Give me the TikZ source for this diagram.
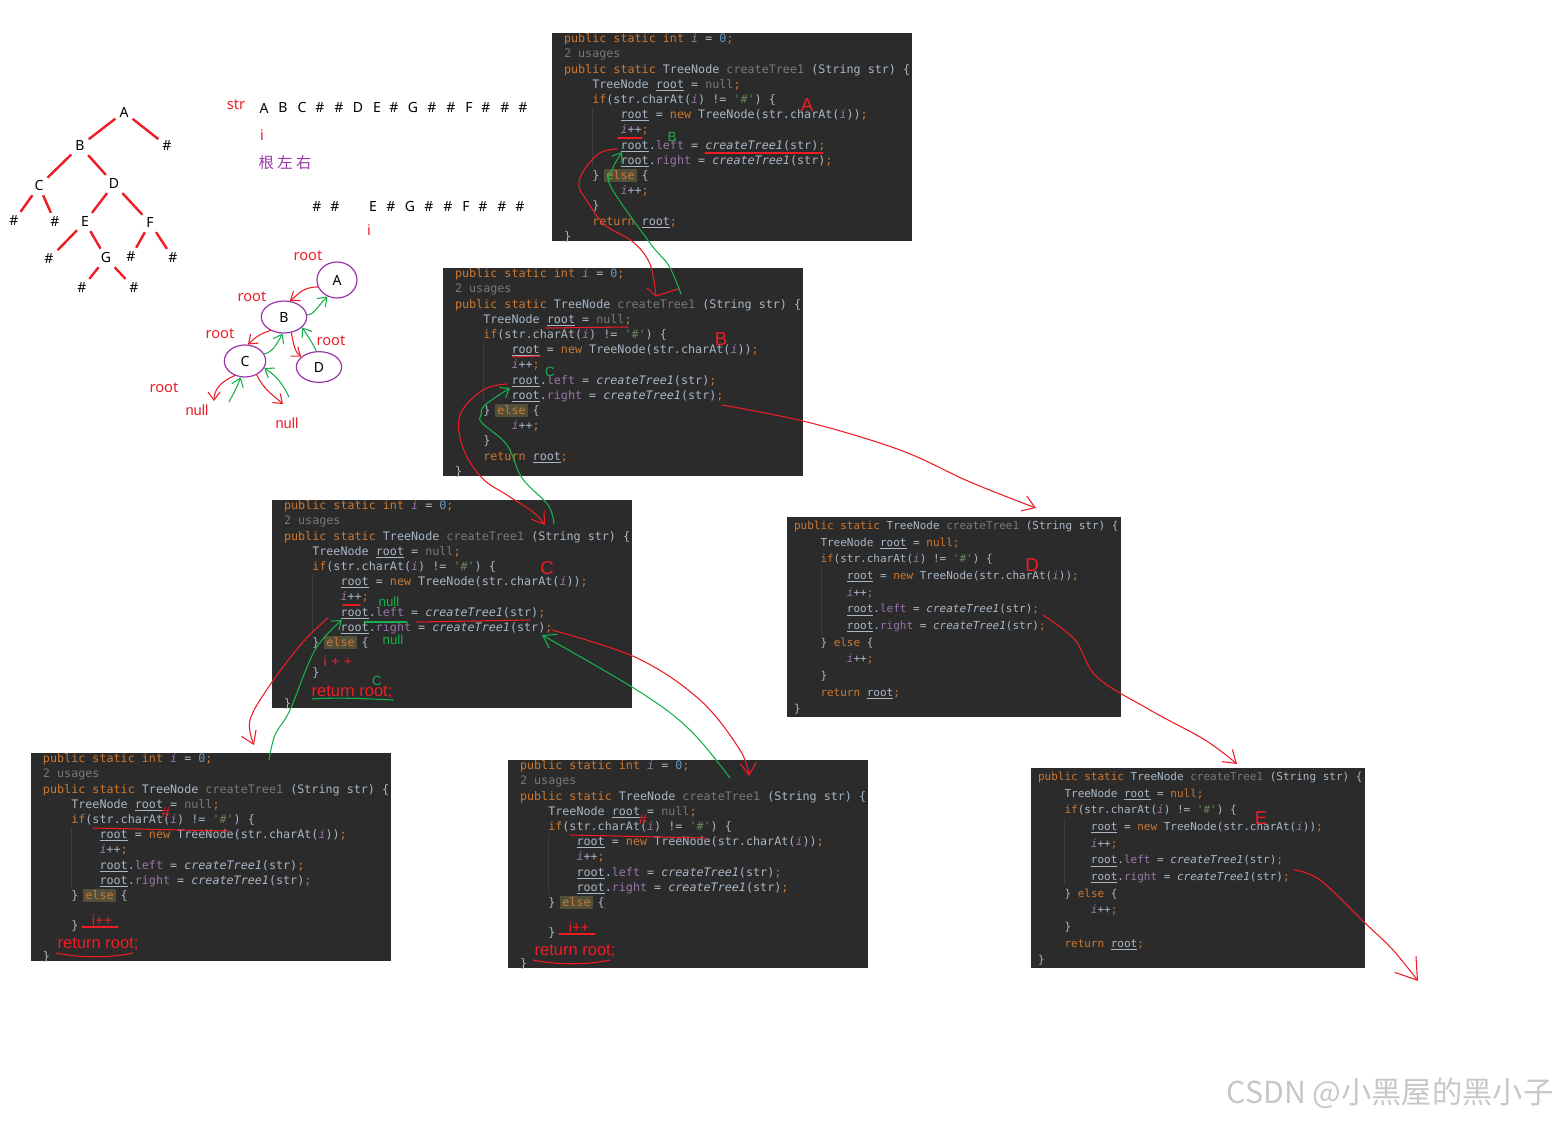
\documentclass[tikz,border=0pt]{standalone}
\usepackage{fontspec}
\setmainfont{Noto Sans}
\setmonofont{DejaVu Sans Mono}
\newfontfamily\cjkfont{Noto Sans CJK SC}
\newfontfamily\penfont{Liberation Sans}
\usetikzlibrary{arrows.meta,shapes.geometric}
\definecolor{panelbg}{HTML}{2B2B2B}
\definecolor{codetext}{HTML}{A9B7C6}
\definecolor{codeorange}{HTML}{CC7832}
\definecolor{codepurple}{HTML}{9876AA}
\definecolor{codegray}{HTML}{787878}
\definecolor{codeblue}{HTML}{6897BB}
\definecolor{codegreen}{HTML}{6A8759}
\definecolor{elsebg}{HTML}{52503A}
\definecolor{guide}{HTML}{3D3D3D}
\definecolor{penred}{HTML}{EE1C25}
\definecolor{pengreen}{HTML}{16B04C}
\definecolor{circlepurple}{HTML}{9A35A8}
\newcommand{\kw}[1]{\textcolor{codeorange}{#1}}
\newcommand{\vi}{\textcolor{codepurple}{\textit{i}}}
\newcommand{\rt}{\underline{root}}
\newcommand{\ind}{\phantom{xxxx}}
\newcommand{\hlelse}{\setlength{\fboxsep}{1.5pt}\hspace{-1.5pt}\smash{\colorbox{elsebg}{\kw{else}}}\hspace{-1.5pt}}
\newcommand{\codehead}{\kw{public static int} \vi\ = \textcolor{codeblue}{0}\kw{;}\\
  \textcolor{codegray}{2 usages}\\}
\newcommand{\codetop}[1]{\kw{public static} TreeNode \textcolor{codegray}{createTree1} (String str) \{\\
  \ind TreeNode \rt\ = #1\kw{;}\\
  \ind\kw{if}(str.charAt(\vi) != \textcolor{codegreen}{'\#'}) \{\\
  \ind\ind\rt\ = \kw{new} TreeNode(str.charAt(\vi))\kw{;}\\
  \ind\ind\vi++\kw{;}\\
  \ind\ind\rt.\textcolor{codepurple}{left} = \textit{createTree1}(str)\kw{;}\\
  \ind\ind\rt.\textcolor{codepurple}{right} = \textit{createTree1}(str)\kw{;}\\}
\newcommand{\grayNull}{\textcolor{codegray}{null}}
\newcommand{\codefull}{\ind\} \hlelse\ \{\\ \ind\ind\vi++\kw{;}\\ \ind\}\\ \ind\kw{return} \rt\kw{;}\\ \smash{\}}}
\newcommand{\codecut}{\ind\} \hlelse\ \{\\ \mbox{}\\ \ind\}\\ \mbox{}\\ \smash{\}}}
\newcommand{\codeplain}{\ind\} \kw{else} \{\\ \ind\ind\vi++\kw{;}\\ \ind\}\\ \ind\kw{return} \rt\kw{;}\\ \smash{\}}}

\begin{document}
\begin{tikzpicture}[x=0.75pt,y=-0.75pt,
  codebig/.style={fill=panelbg,text=codetext,text width=270pt,minimum height=156pt,align=left,
    inner xsep=0pt,inner ysep=0pt,font=\ttfamily\fontsize{8.8}{11.4}\selectfont,
    execute at begin node={\leftskip=9pt\spaceskip=5.3pt\relax}},
  codesmall/.style={fill=panelbg,text=codetext,text width=250.5pt,minimum height=149.5pt,align=left,
    inner xsep=0pt,inner ysep=0pt,font=\ttfamily\fontsize{8.25}{12.5}\selectfont,
    execute at begin node={\leftskip=5.25pt\spaceskip=4.97pt\relax}},
  lab/.style={inner sep=2.5pt,font=\fontsize{10.5}{12}\selectfont},
  tedge/.style={penred,line width=1.8pt,shorten <=0.5pt,shorten >=0.5pt},
  circ/.style={ellipse,draw=circlepurple,line width=0.9pt,inner sep=0pt,font=\fontsize{10.5}{12}\selectfont},
  rootlab/.style={text=penred,inner sep=1pt,font=\fontsize{11}{12}\selectfont},
  pen/.style={line width=0.8pt,line cap=round,line join=round},
  redpen/.style={pen,penred},
  greenpen/.style={pen,pengreen},
  hd/.style={-{Straight Barb[length=6pt,width=9pt]}},
  bighd/.style={-{Straight Barb[length=9pt,width=12pt]}},
  nullmark/.style={text=penred,inner sep=0pt,font=\penfont\fontsize{11}{12}\selectfont},
  redmark/.style={text=penred,inner sep=0pt,font=\penfont\fontsize{14}{15}\selectfont},
  greenmark/.style={text=pengreen,inner sep=0pt,font=\penfont\fontsize{10}{11}\selectfont},
  incmark/.style={text=penred,inner sep=0pt,font=\penfont\fontsize{11}{12}\selectfont},
  scrawl/.style={text=penred,inner sep=0pt,font=\penfont\fontsize{12.4}{14}\selectfont}]
\useasboundingbox (0,0) rectangle (1558,1120);
% tree
\node[lab] (tA) at (124,112) {A};
\node[lab] (tB) at (80,146) {B};
\node[lab] (tH1) at (167,146) {\#};
\node[lab] (tC) at (39,186) {C};
\node[lab] (tD) at (114,184) {D};
\node[lab] (tH2) at (14,221) {\#};
\node[lab] (tH3) at (55,222) {\#};
\node[lab] (tE) at (85,222) {E};
\node[lab] (tF) at (150,223) {F};
\node[lab] (tH4) at (49,259) {\#};
\node[lab] (tG) at (106,258) {G};
\node[lab] (tH5) at (131,257) {\#};
\node[lab] (tH6) at (173,258) {\#};
\node[lab] (tH7) at (82,288) {\#};
\node[lab] (tH8) at (134,288) {\#};
\draw[tedge] (tA)--(tB); \draw[tedge] (tA)--(tH1);
\draw[tedge] (tB)--(tC); \draw[tedge] (tB)--(tD);
\draw[tedge] (tC)--(tH2); \draw[tedge] (tC)--(tH3);
\draw[tedge] (tD)--(tE); \draw[tedge] (tD)--(tF);
\draw[tedge] (tE)--(tH4); \draw[tedge] (tE)--(tG);
\draw[tedge] (tF)--(tH5); \draw[tedge] (tF)--(tH6);
\draw[tedge] (tG)--(tH7); \draw[tedge] (tG)--(tH8);
% string rows
\node[rootlab] (strlab) at (236,105) {str};
\foreach \ch/\xx in {A/264,B/283,C/302,\#/320,\#/339,D/358,E/377,\#/394,G/413,\#/432,\#/451,F/469,\#/486,\#/505,\#/523}
  \node[lab,inner sep=0pt] at (\xx,108) {\ch};
\node[rootlab] (i1) at (262,135) {i};
\node[text=circlepurple,inner sep=0pt,font=\cjkfont\fontsize{11.5}{13}\selectfont] (order) at (285,163) {根 左 右};
\foreach \ch/\xx in {\#/317,\#/335,E/373,\#/391,G/410,\#/429,\#/448,F/466,\#/483,\#/502,\#/520}
  \node[lab,inner sep=0pt] at (\xx,207) {\ch};
\node[rootlab] (i2) at (369,230) {i};
% recursion sketch
\node[circ,minimum width=30pt,minimum height=27pt] (cA) at (337,280) {A};
\node[circ,minimum width=34pt,minimum height=24pt] (cB) at (284,317) {B};
\node[circ,minimum width=31pt,minimum height=24pt] (cC) at (245,361) {C};
\node[circ,minimum width=34pt,minimum height=23pt] (cD) at (319,367) {D};
\node[rootlab] (r1) at (308,256) {root};
\node[rootlab] (r2) at (252,297) {root};
\node[rootlab] (r3) at (220,334) {root};
\node[rootlab] (r4) at (331,341) {root};
\node[rootlab] (r5) at (164,388) {root};
\node[nullmark] (nullL) at (197,410) {null};
\node[nullmark] (nullR) at (287,423) {null};
\draw[redpen,hd] (cA.200) .. controls (302,287) and (298,295) .. (cB.70);
\draw[greenpen,hd] (cB.5) .. controls (314,315) and (316,308) .. (cA.240);
\draw[redpen,hd] (cB.225) .. controls (258,334) and (253,340) .. (cC.80);
\draw[greenpen,hd] (cC.20) .. controls (272,352) and (276,346) .. (cB.265);
\draw[redpen,hd] (cB.295) .. controls (294,346) and (295,352) .. (cD.150);
\draw[greenpen,hd] (cD.100) .. controls (315,348) and (312,342) .. (cB.330);
\coordinate (dnL) at (214,401);
\draw[redpen,hd] (cC.235) .. controls (220,382) and (214,390) .. (dnL);
\coordinate (upL) at (229,402);
\draw[greenpen,hd] (upL) .. controls (232,396) and (236,390) .. (cC.255);
\coordinate (dnR) at (283,404);
\draw[redpen,hd] (cC.310) .. controls (264,390) and (274,396) .. (dnR);
\coordinate (upR) at (289,397);
\draw[greenpen,hd] (upR) .. controls (282,382) and (276,376) .. (cC.340);
% code panels
\node[codebig] (code1) at (732,137) {\codehead\codetop{\grayNull}\codefull};
\node[codebig] (code2) at (623,372) {\codehead\codetop{\grayNull}\codefull};
\node[codebig] (code3) at (452,604) {\codehead\codetop{\grayNull}\codecut};
\node[codebig] (code4) at (211,857) {\codehead\codetop{\grayNull}\codecut};
\node[codebig] (code5) at (688,864) {\codehead\codetop{\grayNull}\codecut};
\node[codesmall] (code6) at (954,617) {\codetop{\kw{null}}\codeplain};
\node[codesmall] (code7) at (1198,868) {\codetop{\kw{null}}\codeplain};
\foreach \gx/\gy/\gz in {592/107/166,483/342/402,312/574/634,71/827/887,548/834/894,821/567/634,1064/818/885}
  \draw[guide,line width=0.6pt] (\gx,\gy)--(\gx,\gz);
% marks on panel 1
\node[redmark] (mA) at (807,105) {A};
\node[greenmark] (mB) at (672,137) {B};
\coordinate (u1a) at (618,138); \coordinate (u1b) at (642,138);
\draw[redpen] (u1a)--(u1b);
\coordinate (u2a) at (705,153); \coordinate (u2b) at (823,153);
\draw[redpen] (u2a)--(u2b);
% marks on panel 2
\node[redmark] (mB2) at (721,339) {B};
\node[greenmark] (mC2) at (550,372) {C};
\coordinate (u3a) at (546,328); \coordinate (u3b) at (628,327);
\draw[redpen] (u3a)--(u3b);
\coordinate (u4a) at (512,357); \coordinate (u4b) at (540,356);
\draw[redpen] (u4a)--(u4b);
% marks on panel 3
\node[redmark] (mC3) at (547,568) {C};
\node[greenmark] (mN1) at (389,602) {null};
\node[greenmark] (mN2) at (393,640) {null};
\node[greenmark] (mC4) at (377,681) {C};
\node[incmark] (inc3) at (338,661) {i + +};
\node[scrawl] (ret3) at (352,692) {return root;};
\coordinate (u5a) at (343,605); \coordinate (u5b) at (360,605);
\draw[redpen] (u5a)--(u5b);
\coordinate (u6a) at (417,622); \coordinate (u6b) at (530,620);
\draw[redpen] (u6a)--(u6b);
\coordinate (u7a) at (364,622); \coordinate (u7b) at (407,622);
\draw[greenpen] (u7a)--(u7b);
\coordinate (u8a) at (312,699); \coordinate (u8b) at (393,700);
\draw[greenpen] (u8a) .. controls (340,697) and (370,699) .. (u8b);
% marks on panel 4
\node[incmark] (mH4) at (166,812) {\#};
\node[incmark] (inc4) at (102,920) {i++};
\node[scrawl] (ret4) at (98,944) {return root;};
\coordinate (u9a) at (93,828); \coordinate (u9b) at (228,831);
\draw[redpen] (u9a)--(u9b);
\coordinate (u10a) at (82,927); \coordinate (u10b) at (118,927);
\draw[redpen] (u10a)--(u10b);
\coordinate (u11a) at (56,953); \coordinate (u11b) at (133,953);
\draw[redpen] (u11a) .. controls (80,958) and (110,958) .. (u11b);
% marks on panel 5
\node[incmark] (mH5) at (643,819) {\#};
\node[incmark] (inc5) at (579,927) {i++};
\node[scrawl] (ret5) at (575,951) {return root;};
\coordinate (u12a) at (570,835); \coordinate (u12b) at (705,838);
\draw[redpen] (u12a)--(u12b);
\coordinate (u13a) at (559,934); \coordinate (u13b) at (595,934);
\draw[redpen] (u13a)--(u13b);
\coordinate (u14a) at (533,960); \coordinate (u14b) at (610,960);
\draw[redpen] (u14a) .. controls (557,965) and (587,965) .. (u14b);
% marks on panels 6 and 7
\node[redmark] (mD) at (1032,565) {D};
\node[redmark] (mE) at (1261,818) {E};
% calls between panels
\coordinate (call1) at (617,149); \coordinate (entry2) at (656,296);
\draw[redpen] plot[smooth,tension=0.6] coordinates {(call1) (600,153) (584,170) (579,186) (587,201) (605,225) (633,242) (650,264) (entry2)};
\draw[redpen] (647,288)--(entry2)--(678,289);
\coordinate (back2) at (681,294); \coordinate (ret1) at (622,152);
\draw[greenpen,hd] plot[smooth,tension=0.6] coordinates {(back2) (669,266) (650,243) (611,187) (612,170) (ret1)};
\coordinate (call2) at (507,384); \coordinate (entry3) at (545,525);
\draw[redpen,bighd] plot[smooth,tension=0.6] coordinates {(call2) (483,390) (460,415) (463,448) (482,478) (507,495) (533,512) (entry3)};
\coordinate (back3) at (554,524); \coordinate (ret2) at (510,388);
\draw[greenpen,hd] plot[smooth,tension=0.6] coordinates {(back3) (548,505) (522,478) (507,445) (482,423) (481,415) (485,405) (ret2)};
\coordinate (callR2) at (722,405); \coordinate (entry6) at (1036,508);
\draw[redpen,bighd] plot[smooth,tension=0.6] coordinates {(callR2) (807,422) (900,450) (970,482) (entry6)};
\coordinate (call3) at (328,618); \coordinate (entry4) at (254,745);
\draw[redpen,bighd] plot[smooth,tension=0.6] coordinates {(call3) (303,642) (270,685) (250,720) (entry4)};
\coordinate (back4) at (269,760); \coordinate (ret3top) at (342,620);
\draw[greenpen,hd] plot[smooth,tension=0.6] coordinates {(back4) (275,735) (290,710) (315,650) (ret3top)};
\coordinate (callR3) at (552,630); \coordinate (entry5) at (749,776);
\draw[redpen,bighd] plot[smooth,tension=0.6] coordinates {(callR3) (637,658) (700,700) (740,750) (entry5)};
\coordinate (back5) at (730,778); \coordinate (retR3) at (542,635);
\draw[greenpen,bighd] plot[smooth,tension=0.6] coordinates {(back5) (690,730) (640,692) (retR3)};
\coordinate (callR6) at (1043,615); \coordinate (entry7) at (1237,764);
\draw[redpen,bighd] plot[smooth,tension=0.6] coordinates {(callR6) (1075,640) (1097,677) (1150,710) (1205,740) (entry7)};
\coordinate (callR7) at (1294,870); \coordinate (exit7) at (1418,981);
\draw[redpen,-{Straight Barb[length=15pt,width=20pt]}] plot[smooth,tension=0.6] coordinates {(callR7) (1320,880) (1365,923) (1393,950) (exit7)};
% watermark
\node[text=black!22,inner sep=0pt,font=\cjkfont\fontsize{22.7}{26}\selectfont] (mark) at (1390,1093) {CSDN @小黑屋的黑小子};
\end{tikzpicture}
\end{document}
